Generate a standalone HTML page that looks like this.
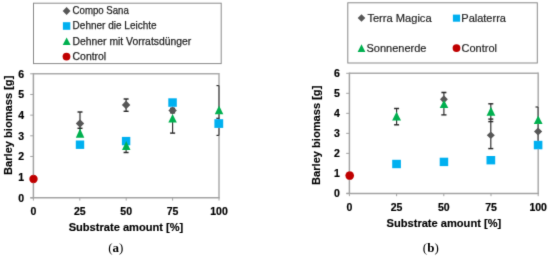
<!DOCTYPE html>
<html><head><meta charset="utf-8"><title>Barley biomass</title>
<style>html,body{margin:0;padding:0;background:#fff;overflow:hidden;}svg{display:block;}</style>
</head><body>
<svg width="550" height="256" viewBox="0 0 550 256">
<defs><filter id="soft" filterUnits="userSpaceOnUse" x="0" y="0" width="550" height="256"><feConvolveMatrix order="3" kernelMatrix="0.01134 0.08382 0.01134 0.08382 0.61935 0.08382 0.01134 0.08382 0.01134" edgeMode="none"/></filter></defs>
<rect width="550" height="256" fill="#fff"/>
<g filter="url(#soft)">
<rect x="33.5" y="3.2" width="187.7" height="60.4" fill="none" stroke="#8a8a8a" stroke-width="1"/>
<polygon points="66.6,7.1 70.5,11 66.6,14.9 62.699999999999996,11" fill="#575757"/>
<rect x="62.9" y="22.2" width="7.40" height="7.60" fill="#00b0f0"/>
<polygon points="66.65,37.4 70.6,44.9 62.7,44.9" fill="#00b050"/>
<circle cx="66.5" cy="56.6" r="3.9" fill="#c00000"/>
<text x="72.6" y="13.9" font-family="Liberation Sans, Arial, sans-serif" font-size="10.6" stroke="#262626" stroke-width="0.25" fill="#262626" textLength="56.2" lengthAdjust="spacingAndGlyphs">Compo Sana</text>
<text x="72.6" y="28.9" font-family="Liberation Sans, Arial, sans-serif" font-size="10.6" stroke="#262626" stroke-width="0.25" fill="#262626" textLength="84" lengthAdjust="spacingAndGlyphs">Dehner die Leichte</text>
<text x="72.6" y="44.6" font-family="Liberation Sans, Arial, sans-serif" font-size="10.6" stroke="#262626" stroke-width="0.25" fill="#262626" textLength="118.6" lengthAdjust="spacingAndGlyphs">Dehner mit Vorratsdünger</text>
<text x="72.6" y="59.7" font-family="Liberation Sans, Arial, sans-serif" font-size="10.6" stroke="#262626" stroke-width="0.25" fill="#262626" textLength="33.5" lengthAdjust="spacingAndGlyphs">Control</text>
<line x1="33.4" y1="73.8" x2="219.0" y2="73.8" stroke="#ababab" stroke-width="1.4"/>
<line x1="219.0" y1="73.1" x2="219.0" y2="197.8" stroke="#ababab" stroke-width="1.5"/>
<line x1="33.4" y1="73.1" x2="33.4" y2="198.3" stroke="#a3a3a3" stroke-width="1.5"/>
<line x1="30.4" y1="197.8" x2="219.75" y2="197.8" stroke="#a3a3a3" stroke-width="1.5"/>
<line x1="30.2" y1="197.8" x2="33.4" y2="197.8" stroke="#a3a3a3" stroke-width="1"/>
<line x1="30.2" y1="177.13333333333335" x2="33.4" y2="177.13333333333335" stroke="#a3a3a3" stroke-width="1"/>
<line x1="30.2" y1="156.46666666666667" x2="33.4" y2="156.46666666666667" stroke="#a3a3a3" stroke-width="1"/>
<line x1="30.2" y1="135.8" x2="33.4" y2="135.8" stroke="#a3a3a3" stroke-width="1"/>
<line x1="30.2" y1="115.13333333333334" x2="33.4" y2="115.13333333333334" stroke="#a3a3a3" stroke-width="1"/>
<line x1="30.2" y1="94.46666666666665" x2="33.4" y2="94.46666666666665" stroke="#a3a3a3" stroke-width="1"/>
<line x1="30.2" y1="73.8" x2="33.4" y2="73.8" stroke="#a3a3a3" stroke-width="1"/>
<line x1="33.4" y1="197.8" x2="33.4" y2="200.60000000000002" stroke="#a3a3a3" stroke-width="1"/>
<line x1="79.8" y1="197.8" x2="79.8" y2="200.60000000000002" stroke="#a3a3a3" stroke-width="1"/>
<line x1="126.19999999999999" y1="197.8" x2="126.19999999999999" y2="200.60000000000002" stroke="#a3a3a3" stroke-width="1"/>
<line x1="172.6" y1="197.8" x2="172.6" y2="200.60000000000002" stroke="#a3a3a3" stroke-width="1"/>
<line x1="219.0" y1="197.8" x2="219.0" y2="200.60000000000002" stroke="#a3a3a3" stroke-width="1"/>
<text x="24" y="201.50" font-family="Liberation Sans, Arial, sans-serif" font-size="10.5" font-weight="bold" stroke="#000" stroke-width="0.2" text-anchor="end" fill="#000000">0</text>
<text x="24" y="180.83" font-family="Liberation Sans, Arial, sans-serif" font-size="10.5" font-weight="bold" stroke="#000" stroke-width="0.2" text-anchor="end" fill="#000000">1</text>
<text x="24" y="160.17" font-family="Liberation Sans, Arial, sans-serif" font-size="10.5" font-weight="bold" stroke="#000" stroke-width="0.2" text-anchor="end" fill="#000000">2</text>
<text x="24" y="139.50" font-family="Liberation Sans, Arial, sans-serif" font-size="10.5" font-weight="bold" stroke="#000" stroke-width="0.2" text-anchor="end" fill="#000000">3</text>
<text x="24" y="118.83" font-family="Liberation Sans, Arial, sans-serif" font-size="10.5" font-weight="bold" stroke="#000" stroke-width="0.2" text-anchor="end" fill="#000000">4</text>
<text x="24" y="98.17" font-family="Liberation Sans, Arial, sans-serif" font-size="10.5" font-weight="bold" stroke="#000" stroke-width="0.2" text-anchor="end" fill="#000000">5</text>
<text x="24" y="77.50" font-family="Liberation Sans, Arial, sans-serif" font-size="10.5" font-weight="bold" stroke="#000" stroke-width="0.2" text-anchor="end" fill="#000000">6</text>
<text x="33.40" y="214.8" font-family="Liberation Sans, Arial, sans-serif" font-size="10.5" font-weight="bold" stroke="#000" stroke-width="0.2" text-anchor="middle" fill="#000000">0</text>
<text x="79.80" y="214.8" font-family="Liberation Sans, Arial, sans-serif" font-size="10.5" font-weight="bold" stroke="#000" stroke-width="0.2" text-anchor="middle" fill="#000000">25</text>
<text x="126.20" y="214.8" font-family="Liberation Sans, Arial, sans-serif" font-size="10.5" font-weight="bold" stroke="#000" stroke-width="0.2" text-anchor="middle" fill="#000000">50</text>
<text x="172.60" y="214.8" font-family="Liberation Sans, Arial, sans-serif" font-size="10.5" font-weight="bold" stroke="#000" stroke-width="0.2" text-anchor="middle" fill="#000000">75</text>
<text x="219.00" y="214.8" font-family="Liberation Sans, Arial, sans-serif" font-size="10.5" font-weight="bold" stroke="#000" stroke-width="0.2" text-anchor="middle" fill="#000000">100</text>
<text x="126" y="230.8" font-family="Liberation Sans, Arial, sans-serif" font-size="11.1" font-weight="bold" stroke="#000" stroke-width="0.15" text-anchor="middle" fill="#000000">Substrate amount [%]</text>
<text transform="translate(11.5,125.3) rotate(-90)" x="0" y="0" font-family="Liberation Sans, Arial, sans-serif" font-size="11.1" font-weight="bold" stroke="#000" stroke-width="0.15" text-anchor="middle" fill="#000000">Barley biomass [g]</text>
<line x1="80" y1="112" x2="80" y2="134" stroke="#2b2b2b" stroke-width="1.15"/>
<line x1="77.5" y1="112" x2="82.5" y2="112" stroke="#2b2b2b" stroke-width="1.45"/>
<polygon points="80,119.3 84.2,123.5 80,127.7 75.8,123.5" fill="#575757"/>
<rect x="75.8" y="140.5" width="8.40" height="8.40" fill="#00b0f0"/>
<line x1="77.5" y1="128.3" x2="82.5" y2="128.3" stroke="#2b2b2b" stroke-width="1.45"/>
<polygon points="80.05,128.4 84.3,137.7 75.8,137.7" fill="#00b050"/>
<line x1="126.1" y1="99" x2="126.1" y2="111.3" stroke="#2b2b2b" stroke-width="1.15"/>
<line x1="123.6" y1="99" x2="128.6" y2="99" stroke="#2b2b2b" stroke-width="1.45"/>
<line x1="123.6" y1="111.3" x2="128.6" y2="111.3" stroke="#2b2b2b" stroke-width="1.45"/>
<polygon points="126.1,100.5 130.29999999999998,104.9 126.1,109.30000000000001 121.89999999999999,104.9" fill="#575757"/>
<rect x="121.9" y="136.9" width="8.40" height="8.40" fill="#00b0f0"/>
<line x1="126.1" y1="146" x2="126.1" y2="152.5" stroke="#2b2b2b" stroke-width="1.15"/>
<line x1="123.6" y1="152.5" x2="128.6" y2="152.5" stroke="#2b2b2b" stroke-width="1.45"/>
<polygon points="126.25,141 130.5,150 122.0,150" fill="#00b050"/>
<line x1="172.6" y1="108" x2="172.6" y2="113" stroke="#2b2b2b" stroke-width="1.15"/>
<line x1="170.1" y1="108.3" x2="175.1" y2="108.3" stroke="#2b2b2b" stroke-width="1.45"/>
<line x1="170.1" y1="112.8" x2="175.1" y2="112.8" stroke="#2b2b2b" stroke-width="1.45"/>
<polygon points="172.6,106.3 176.79999999999998,110.5 172.6,114.7 168.4,110.5" fill="#575757"/>
<rect x="168.3" y="98.3" width="8.50" height="8.50" fill="#00b0f0"/>
<line x1="172.6" y1="118" x2="172.6" y2="133.1" stroke="#2b2b2b" stroke-width="1.15"/>
<line x1="170.1" y1="133.1" x2="175.1" y2="133.1" stroke="#2b2b2b" stroke-width="1.45"/>
<polygon points="172.55,114.0 176.8,122.4 168.3,122.4" fill="#00b050"/>
<line x1="219.0" y1="85.6" x2="219.0" y2="135.4" stroke="#555" stroke-width="1.3"/>
<line x1="216.5" y1="85.6" x2="219.0" y2="85.6" stroke="#2b2b2b" stroke-width="1.2"/>
<line x1="216.5" y1="135.4" x2="219.0" y2="135.4" stroke="#2b2b2b" stroke-width="1.2"/>
<line x1="216.3" y1="118.4" x2="219.3" y2="118.4" stroke="#2b2b2b" stroke-width="1.45"/>
<polygon points="219.05,105.4 223.3,114.3 214.8,114.3" fill="#00b050"/>
<rect x="214.4" y="119.2" width="8.80" height="8.70" fill="#00b0f0"/>
<circle cx="33.5" cy="179" r="4.2" fill="#c00000"/>
<rect x="347.8" y="2.8" width="189.5" height="60.2" fill="none" stroke="#8a8a8a" stroke-width="1"/>
<polygon points="361.5,14.2 365.3,18 361.5,21.8 357.7,18" fill="#575757"/>
<rect x="452.9" y="14.6" width="7.20" height="7.10" fill="#00b0f0"/>
<polygon points="361.50,44.3 365.4,51.9 357.6,51.9" fill="#00b050"/>
<circle cx="456.5" cy="48.1" r="3.9" fill="#c00000"/>
<text x="367.4" y="21.6" font-family="Liberation Sans, Arial, sans-serif" font-size="11" stroke="#262626" stroke-width="0.2" fill="#262626" textLength="64.2" lengthAdjust="spacingAndGlyphs">Terra Magica</text>
<text x="461.3" y="21.6" font-family="Liberation Sans, Arial, sans-serif" font-size="11" stroke="#262626" stroke-width="0.2" fill="#262626">Palaterra</text>
<text x="366.5" y="51.8" font-family="Liberation Sans, Arial, sans-serif" font-size="11" stroke="#262626" stroke-width="0.2" fill="#262626">Sonnenerde</text>
<text x="461.5" y="51.8" font-family="Liberation Sans, Arial, sans-serif" font-size="11" stroke="#262626" stroke-width="0.2" fill="#262626">Control</text>
<line x1="349.4" y1="73.3" x2="538.2" y2="73.3" stroke="#ababab" stroke-width="1.4"/>
<line x1="538.2" y1="72.6" x2="538.2" y2="193.4" stroke="#ababab" stroke-width="1.5"/>
<line x1="349.4" y1="72.6" x2="349.4" y2="193.9" stroke="#a3a3a3" stroke-width="1.5"/>
<line x1="346.4" y1="193.4" x2="538.95" y2="193.4" stroke="#a3a3a3" stroke-width="1.5"/>
<line x1="346.2" y1="193.4" x2="349.4" y2="193.4" stroke="#a3a3a3" stroke-width="1"/>
<line x1="346.2" y1="173.38333333333333" x2="349.4" y2="173.38333333333333" stroke="#a3a3a3" stroke-width="1"/>
<line x1="346.2" y1="153.36666666666667" x2="349.4" y2="153.36666666666667" stroke="#a3a3a3" stroke-width="1"/>
<line x1="346.2" y1="133.35" x2="349.4" y2="133.35" stroke="#a3a3a3" stroke-width="1"/>
<line x1="346.2" y1="113.33333333333333" x2="349.4" y2="113.33333333333333" stroke="#a3a3a3" stroke-width="1"/>
<line x1="346.2" y1="93.31666666666668" x2="349.4" y2="93.31666666666668" stroke="#a3a3a3" stroke-width="1"/>
<line x1="346.2" y1="73.3" x2="349.4" y2="73.3" stroke="#a3a3a3" stroke-width="1"/>
<line x1="349.4" y1="193.4" x2="349.4" y2="196.20000000000002" stroke="#a3a3a3" stroke-width="1"/>
<line x1="396.6" y1="193.4" x2="396.6" y2="196.20000000000002" stroke="#a3a3a3" stroke-width="1"/>
<line x1="443.8" y1="193.4" x2="443.8" y2="196.20000000000002" stroke="#a3a3a3" stroke-width="1"/>
<line x1="491.0" y1="193.4" x2="491.0" y2="196.20000000000002" stroke="#a3a3a3" stroke-width="1"/>
<line x1="538.2" y1="193.4" x2="538.2" y2="196.20000000000002" stroke="#a3a3a3" stroke-width="1"/>
<text x="339.9" y="197.10" font-family="Liberation Sans, Arial, sans-serif" font-size="10.5" font-weight="bold" stroke="#000" stroke-width="0.2" text-anchor="end" fill="#000000">0</text>
<text x="339.9" y="177.08" font-family="Liberation Sans, Arial, sans-serif" font-size="10.5" font-weight="bold" stroke="#000" stroke-width="0.2" text-anchor="end" fill="#000000">1</text>
<text x="339.9" y="157.07" font-family="Liberation Sans, Arial, sans-serif" font-size="10.5" font-weight="bold" stroke="#000" stroke-width="0.2" text-anchor="end" fill="#000000">2</text>
<text x="339.9" y="137.05" font-family="Liberation Sans, Arial, sans-serif" font-size="10.5" font-weight="bold" stroke="#000" stroke-width="0.2" text-anchor="end" fill="#000000">3</text>
<text x="339.9" y="117.03" font-family="Liberation Sans, Arial, sans-serif" font-size="10.5" font-weight="bold" stroke="#000" stroke-width="0.2" text-anchor="end" fill="#000000">4</text>
<text x="339.9" y="97.02" font-family="Liberation Sans, Arial, sans-serif" font-size="10.5" font-weight="bold" stroke="#000" stroke-width="0.2" text-anchor="end" fill="#000000">5</text>
<text x="339.9" y="77.00" font-family="Liberation Sans, Arial, sans-serif" font-size="10.5" font-weight="bold" stroke="#000" stroke-width="0.2" text-anchor="end" fill="#000000">6</text>
<text x="349.40" y="210.5" font-family="Liberation Sans, Arial, sans-serif" font-size="10.5" font-weight="bold" stroke="#000" stroke-width="0.2" text-anchor="middle" fill="#000000">0</text>
<text x="396.60" y="210.5" font-family="Liberation Sans, Arial, sans-serif" font-size="10.5" font-weight="bold" stroke="#000" stroke-width="0.2" text-anchor="middle" fill="#000000">25</text>
<text x="443.80" y="210.5" font-family="Liberation Sans, Arial, sans-serif" font-size="10.5" font-weight="bold" stroke="#000" stroke-width="0.2" text-anchor="middle" fill="#000000">50</text>
<text x="491.00" y="210.5" font-family="Liberation Sans, Arial, sans-serif" font-size="10.5" font-weight="bold" stroke="#000" stroke-width="0.2" text-anchor="middle" fill="#000000">75</text>
<text x="538.20" y="210.5" font-family="Liberation Sans, Arial, sans-serif" font-size="10.5" font-weight="bold" stroke="#000" stroke-width="0.2" text-anchor="middle" fill="#000000">100</text>
<text x="443.9" y="226.6" font-family="Liberation Sans, Arial, sans-serif" font-size="11.1" font-weight="bold" stroke="#000" stroke-width="0.15" text-anchor="middle" fill="#000000">Substrate amount [%]</text>
<text transform="translate(320,135.3) rotate(-90)" x="0" y="0" font-family="Liberation Sans, Arial, sans-serif" font-size="11.1" font-weight="bold" stroke="#000" stroke-width="0.15" text-anchor="middle" fill="#000000">Barley biomass [g]</text>
<line x1="396.6" y1="108.5" x2="396.6" y2="124.8" stroke="#2b2b2b" stroke-width="1.15"/>
<line x1="394.1" y1="108.5" x2="399.1" y2="108.5" stroke="#2b2b2b" stroke-width="1.45"/>
<line x1="394.1" y1="124.8" x2="399.1" y2="124.8" stroke="#2b2b2b" stroke-width="1.45"/>
<polygon points="396.55,111.7 401.0,120.6 392.1,120.6" fill="#00b050"/>
<rect x="392.2" y="159.8" width="8.70" height="8.40" fill="#00b0f0"/>
<line x1="443.9" y1="92.5" x2="443.9" y2="114.9" stroke="#2b2b2b" stroke-width="1.15"/>
<line x1="441.4" y1="92.5" x2="446.4" y2="92.5" stroke="#2b2b2b" stroke-width="1.6"/>
<line x1="441.29999999999995" y1="114.9" x2="446.5" y2="114.9" stroke="#2b2b2b" stroke-width="1.4"/>
<polygon points="443.9,95.2 447.79999999999995,99.3 443.9,103.39999999999999 440.0,99.3" fill="#575757"/>
<polygon points="444.00,99.9 448.3,107.9 439.7,107.9" fill="#00b050"/>
<rect x="439.7" y="157.7" width="8.50" height="8.40" fill="#00b0f0"/>
<line x1="490.8" y1="103.8" x2="490.8" y2="148.6" stroke="#2b2b2b" stroke-width="1.15"/>
<line x1="488.3" y1="103.8" x2="493.3" y2="103.8" stroke="#2b2b2b" stroke-width="1.45"/>
<line x1="488.3" y1="119.1" x2="493.3" y2="119.1" stroke="#2b2b2b" stroke-width="1.45"/>
<line x1="488.3" y1="121.6" x2="493.3" y2="121.6" stroke="#2b2b2b" stroke-width="1.45"/>
<line x1="488.3" y1="148.6" x2="493.3" y2="148.6" stroke="#2b2b2b" stroke-width="1.45"/>
<polygon points="490.8,131.39999999999998 494.8,135.2 490.8,139.0 486.8,135.2" fill="#575757"/>
<polygon points="490.95,106.8 495.3,115.8 486.6,115.8" fill="#00b050"/>
<rect x="486.5" y="156" width="8.70" height="8.40" fill="#00b0f0"/>
<line x1="538.1" y1="107" x2="538.1" y2="141" stroke="#555" stroke-width="1.3"/>
<line x1="535.5" y1="107" x2="538.1" y2="107" stroke="#2b2b2b" stroke-width="1.2"/>
<polygon points="538.20,115.5 542.6,123.9 533.8,123.9" fill="#00b050"/>
<polygon points="538.1,127.4 542.2,131.5 538.1,135.6 534.0,131.5" fill="#575757"/>
<rect x="533.8" y="140.8" width="8.60" height="8.50" fill="#00b0f0"/>
<circle cx="349.7" cy="175.6" r="4.3" fill="#c00000"/>
<text x="108.2" y="252" font-family="Liberation Serif, Times New Roman, serif" font-size="13" fill="#000000">(<tspan font-weight="bold">a</tspan>)</text>
<text x="422.8" y="252" font-family="Liberation Serif, Times New Roman, serif" font-size="13" fill="#000000">(<tspan font-weight="bold">b</tspan>)</text>
</g>
</svg>
</body></html>
